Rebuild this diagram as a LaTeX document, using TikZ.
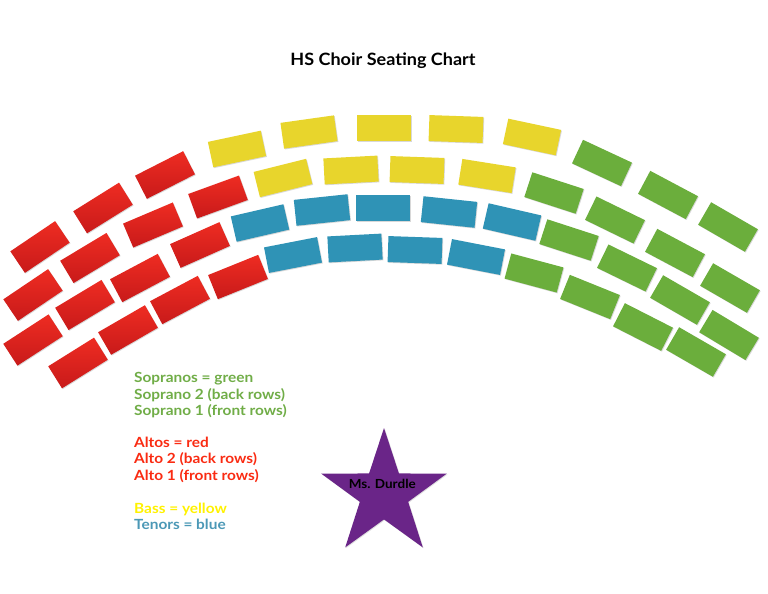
\documentclass[tikz,border=0pt]{standalone}
\usepackage{fontspec}
\setmainfont{Lato}
\newfontfamily\legfont{Lato}[FakeStretch=1.1]
\newfontfamily\titfont{Lato}[FakeStretch=1.06]
\newfontfamily\durfont{Lato}[FakeStretch=1.08]
\usetikzlibrary{shapes.geometric,shadows}
\definecolor{altotop}{HTML}{EE2C22}
\definecolor{altobot}{HTML}{C81A1A}
\definecolor{bassfill}{HTML}{E8D52C}
\definecolor{tenorfill}{HTML}{2F93B6}
\definecolor{sopfill}{HTML}{6BAE3C}
\definecolor{soptext}{HTML}{70AD47}
\definecolor{altotext}{HTML}{FA2B12}
\definecolor{basstext}{HTML}{FFF200}
\definecolor{tenortext}{HTML}{4B98B6}
\definecolor{starpurple}{HTML}{6A2588}
\begin{document}
\begin{tikzpicture}[x=1pt,y=-1pt,
  seat/.style={rectangle, minimum width=54pt, minimum height=26pt, inner sep=0pt, draw=none,
    drop shadow={shadow xshift=0.8pt, shadow yshift=-0.8pt, opacity=0.3}},
  altoseat/.style={seat, top color=altotop, bottom color=altobot},
  bassseat/.style={seat, fill=bassfill},
  tenorseat/.style={seat, fill=tenorfill},
  sopseat/.style={seat, fill=sopfill},
  legend/.style={anchor=base west, inner sep=0pt, font=\legfont\fontsize{14}{16}\selectfont\bfseries}
]
\useasboundingbox (0,0) rectangle (768,594);
\fill[white] (0,0) rectangle (768,594);

\foreach \x/\y/\a/\s [count=\i] in {
  40/247/34/altoseat, 103/208/32/altoseat, 165/175/27/altoseat,
  237/149/12/bassseat, 309/132/8/bassseat, 384/128/0/bassseat, 456/129/-2/bassseat, 532/137/-12/bassseat,
  602/163/-25/sopseat, 668/195/-28/sopseat, 728/227/-30/sopseat,
  33/295/34/altoseat, 90/258/31/altoseat, 153/225/23/altoseat, 218/197/20/altoseat,
  283/178/14/bassseat, 351/170/3/bassseat, 417/170/-2/bassseat, 487/176/-9/bassseat,
  554/193/-18/sopseat, 615/220/-26/sopseat, 675/253/-28/sopseat, 730/288/-30/sopseat,
  33/340/33/altoseat, 85/305/31/altoseat, 140/278/28/altoseat, 200/245/24/altoseat,
  260/223/13/tenorseat, 322/210/6/tenorseat, 383/208/0/tenorseat, 449/212/-6/tenorseat, 512/222/-13/tenorseat,
  569/240/-18/sopseat, 627/268/-26/sopseat, 680/300/-30/sopseat, 729/335/-31/sopseat,
  78/363/32/altoseat, 128/330/30/altoseat, 180/300/28/altoseat, 238/277/22/altoseat,
  293/255/11/tenorseat, 355/248/3/tenorseat, 415/250/-2/tenorseat, 476/257/-11/tenorseat,
  534/273/-15/sopseat, 590/297/-22/sopseat, 643/327/-27/sopseat, 696/352/-30/sopseat}
  \node[\s, rotate=\a] (s\i) at (\x,\y) {};

\node[anchor=base, inner sep=0pt, font=\titfont\fontsize{17}{20}\selectfont\bfseries] (title) at (383,66) {HS Choir Seating Chart};

\node[legend, text=soptext] (l1) at (134,382.7) {Sopranos = green};
\node[legend, text=soptext] (l2) at (134,399) {Soprano 2 (back rows)};
\node[legend, text=soptext] (l3) at (134,415) {Soprano 1 (front rows)};
\node[legend, text=altotext] (l4) at (134,447.3) {Altos = red};
\node[legend, text=altotext] (l5) at (134,463.7) {Alto 2 (back rows)};
\node[legend, text=altotext] (l6) at (134,480) {Alto 1 (front rows)};
\node[legend, text=basstext] (l7) at (134,513.3) {Bass = yellow};
\node[legend, text=tenortext] (l8) at (134,529.3) {Tenors = blue};

\node[star, star points=5, star point ratio=2.6, minimum size=132pt, inner sep=0pt, fill=starpurple, draw=none,
  drop shadow={shadow xshift=0.8pt, shadow yshift=-0.8pt, opacity=0.25}] (star) at (384,494) {};
\node[anchor=base, inner sep=0pt, font=\durfont\fontsize{12.5}{14}\selectfont\bfseries] (durdle) at (382.3,488.3) {Ms. Durdle};
\end{tikzpicture}
\end{document}
